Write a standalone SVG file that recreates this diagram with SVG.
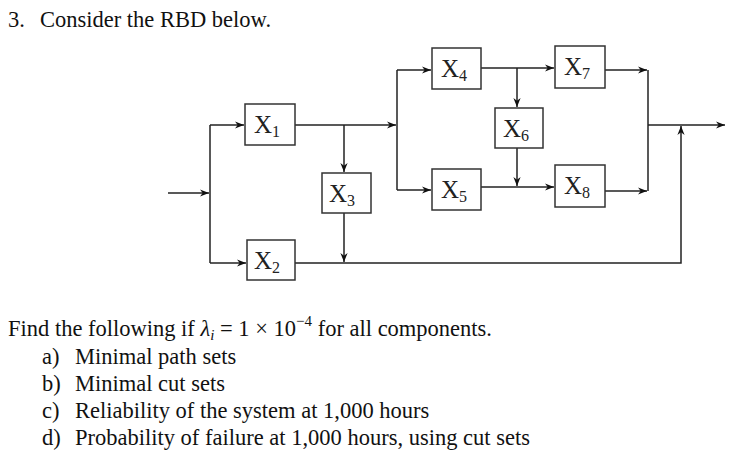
<svg xmlns="http://www.w3.org/2000/svg" width="733" height="459" viewBox="0 0 733 459">
<style>
.b{fill:#fff;stroke:#333;stroke-width:1.5}
.l{fill:none;stroke:#222;stroke-width:1.5}
.t{font-family:"Liberation Serif",serif;font-size:22.5px;fill:#111}
.x{font-family:"Liberation Serif",serif;font-size:25px;fill:#222}
.s{font-size:16px}
</style>
<defs><marker id="a" viewBox="0 0 10 10" refX="10" refY="5" markerWidth="9" markerHeight="9" orient="auto" markerUnits="userSpaceOnUse"><path d="M0,1L10,5L0,9L3,5z" fill="#111"/></marker></defs>
<rect width="733" height="459" fill="#fff"/>
<text class="t" x="8" y="27">3.</text><text class="t" x="40" y="27">Consider the RBD below.</text>
<g id="connectors" class="l">
<path d="M168,193H209" marker-end="url(#a)"/>
<path d="M210,125V263"/>
<path d="M210,125H244" marker-end="url(#a)"/>
<path d="M210,263H246" marker-end="url(#a)"/>
<path d="M295,125H396" marker-end="url(#a)"/>
<path d="M344,125V172" marker-end="url(#a)"/>
<path d="M344,213V262" marker-end="url(#a)"/>
<path d="M295,263H681V126" marker-end="url(#a)"/>
<path d="M397,70V190"/>
<path d="M397,70H431" marker-end="url(#a)"/>
<path d="M397,190H431" marker-end="url(#a)"/>
<path d="M481,68H554" marker-end="url(#a)"/>
<path d="M517,68V107" marker-end="url(#a)"/>
<path d="M517,148V186" marker-end="url(#a)"/>
<path d="M481,187H554" marker-end="url(#a)"/>
<path d="M605,70H647" marker-end="url(#a)"/>
<path d="M605,191H647" marker-end="url(#a)"/>
<path d="M648,70V191"/>
<path d="M648,125H725" marker-end="url(#a)"/>
</g>
<g id="X1"><rect class="b" x="245" y="104" width="50" height="41"/><text class="x" x="254" y="133">X<tspan class="s" dy="4">1</tspan></text></g>
<g id="X2"><rect class="b" x="247" y="240" width="48" height="40"/><text class="x" x="254" y="269">X<tspan class="s" dy="4">2</tspan></text></g>
<g id="X3"><rect class="b" x="322" y="173" width="49" height="40"/><text class="x" x="329" y="202">X<tspan class="s" dy="4">3</tspan></text></g>
<g id="X4"><rect class="b" x="432" y="48" width="49" height="41"/><text class="x" x="441" y="77">X<tspan class="s" dy="4">4</tspan></text></g>
<g id="X5"><rect class="b" x="432" y="169" width="49" height="41"/><text class="x" x="441" y="198">X<tspan class="s" dy="4">5</tspan></text></g>
<g id="X6"><rect class="b" x="495" y="108" width="48" height="40"/><text class="x" x="503" y="137">X<tspan class="s" dy="4">6</tspan></text></g>
<g id="X7"><rect class="b" x="555" y="46" width="50" height="42"/><text class="x" x="564" y="75">X<tspan class="s" dy="4">7</tspan></text></g>
<g id="X8"><rect class="b" x="555" y="165" width="50" height="42"/><text class="x" x="564" y="194">X<tspan class="s" dy="4">8</tspan></text></g>
<text class="t" x="8" y="336">Find the following if <tspan font-style="italic">λ</tspan><tspan font-size="15" font-style="italic" dy="4">i</tspan><tspan dy="-4"> = 1 × 10</tspan><tspan font-size="15" dy="-10">−4</tspan><tspan dy="10"> for all components.</tspan></text>
<text class="t" x="42" y="364">a)</text><text class="t" x="75" y="364">Minimal path sets</text>
<text class="t" x="42" y="391">b)</text><text class="t" x="75" y="391">Minimal cut sets</text>
<text class="t" x="42" y="418">c)</text><text class="t" x="75" y="418">Reliability of the system at 1,000 hours</text>
<text class="t" x="42" y="445">d)</text><text class="t" x="75" y="445">Probability of failure at 1,000 hours, using cut sets</text>
</svg>
